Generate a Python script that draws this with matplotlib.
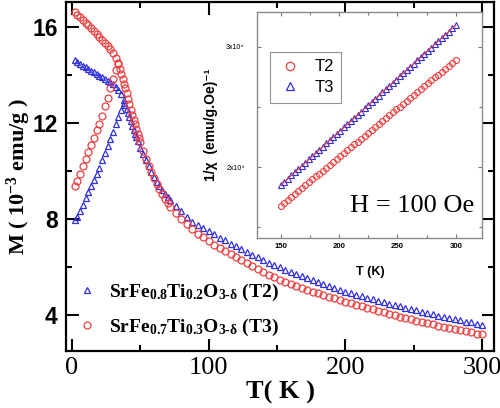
import numpy as np
import matplotlib
matplotlib.use('Agg')
import matplotlib.pyplot as plt
from matplotlib.lines import Line2D
from matplotlib.ticker import MultipleLocator, FixedLocator

plt.rcParams['mathtext.fontset'] = 'custom'
plt.rcParams['mathtext.rm'] = 'Liberation Serif'
plt.rcParams['mathtext.bf'] = 'Liberation Serif:bold'
plt.rcParams['mathtext.it'] = 'Liberation Serif:italic'

# ---- main panel: M(T), units of 1e-3 emu/g ----
# T2 = SrFe0.8Ti0.2O3-d (blue triangles)
t2_zfc_T = [2, 4, 6, 8, 10, 12, 14, 16, 18, 20, 22, 24, 26, 28, 30, 32, 34, 36, 38]
t2_zfc_M = [7.95, 8.1, 8.35, 8.6, 8.9, 9.15, 9.4, 9.65, 9.9, 10.15, 10.45, 10.75,
            11.05, 11.35, 11.65, 11.95, 12.25, 12.55, 12.85]
t2_fc_T = [2, 4, 6, 8, 10, 12, 14, 16, 18, 20, 22, 24, 26, 28, 30, 32, 34, 36]
t2_fc_M = [14.62, 14.55, 14.48, 14.40, 14.33, 14.26, 14.19, 14.12, 14.05, 13.98,
           13.91, 13.84, 13.77, 13.70, 13.62, 13.52, 13.40, 13.22]
t2_T = [38, 39, 40, 41, 42, 43, 44, 45, 46, 47, 48, 50, 52, 54, 56, 58, 60, 62, 64,
        66, 68, 70, 72, 76, 80, 84, 88, 92, 96,
        100, 104, 108, 112, 116, 120, 124, 128, 132, 136, 140, 144, 148, 152, 156,
        160, 164, 168, 172, 176, 180, 184, 188, 192, 196, 200, 204, 208, 212, 216,
        220, 224, 228, 232, 236, 240, 244, 248, 252, 256, 260, 264, 268, 272, 276,
        280, 284, 288, 292, 296, 300]
t2_M = [12.95, 12.78, 12.6, 12.42, 12.25, 12.08, 11.9, 11.73, 11.57, 11.42, 11.27,
        10.98, 10.7, 10.45, 10.2, 9.97, 9.76, 9.56, 9.38, 9.21, 9.05, 8.92, 8.8,
        8.55, 8.32, 8.1, 7.9, 7.76, 7.62,
        7.50, 7.36, 7.23, 7.11, 6.98, 6.86, 6.74, 6.63, 6.52, 6.41, 6.30, 6.19,
        6.09, 5.99, 5.89, 5.80, 5.71, 5.62, 5.54, 5.45, 5.37, 5.29, 5.21, 5.13,
        5.05, 4.98, 4.91, 4.84, 4.78, 4.71, 4.65, 4.59, 4.53, 4.47, 4.42, 4.36,
        4.30, 4.25, 4.19, 4.14, 4.08, 4.03, 3.98, 3.92, 3.88, 3.83, 3.78, 3.73,
        3.69, 3.63, 3.58]

# T3 = SrFe0.7Ti0.3O3-d (red circles)
t3_zfc_T = [2, 4, 6, 8, 10, 12, 14, 16, 18, 20, 22, 24, 26, 28, 30, 32, 34]
t3_zfc_M = [9.4, 9.6, 9.9, 10.2, 10.5, 10.8, 11.1, 11.4, 11.7, 11.95, 12.3, 12.7,
            13.05, 13.45, 13.85, 14.2, 14.5]
t3_fc_T = [2, 4, 6, 8, 10, 12, 14, 16, 18, 20, 22, 24, 26, 28, 30, 32, 34]
t3_fc_M = [16.62, 16.52, 16.42, 16.32, 16.2, 16.08, 15.96, 15.84, 15.72, 15.6,
           15.48, 15.36, 15.22, 15.08, 14.92, 14.72, 14.45]
t3_T = [35, 36, 37, 38, 39, 40, 41, 42, 43, 44, 45, 46, 47, 48, 49, 50, 52, 54, 56,
        58, 60, 62, 64, 66, 68, 70, 72, 76, 80, 84, 88, 92, 96,
        100, 104, 108, 112, 116, 120, 124, 128, 132, 136, 140, 144, 148, 152, 156,
        160, 164, 168, 172, 176, 180, 184, 188, 192, 196, 200, 204, 208, 212, 216,
        220, 224, 228, 232, 236, 240, 244, 248, 252, 256, 260, 264, 268, 272, 276,
        280, 284, 288, 292, 296, 300]
t3_M = [14.25, 14.05, 13.85, 13.65, 13.45, 13.25, 13.02, 12.8, 12.57, 12.35, 12.15,
        11.95, 11.75, 11.57, 11.38, 11.2, 10.85, 10.52, 10.22, 9.95, 9.7, 9.47,
        9.25, 9.05, 8.86, 8.68, 8.52, 8.25, 8.0, 7.78, 7.58, 7.4, 7.24,
        7.08, 6.94, 6.80, 6.68, 6.55, 6.42, 6.30, 6.18, 6.06, 5.92, 5.80, 5.69,
        5.58, 5.47, 5.39, 5.30, 5.22, 5.13, 5.05, 4.98, 4.90, 4.83, 4.76, 4.69,
        4.62, 4.56, 4.50, 4.43, 4.37, 4.30, 4.24, 4.18, 4.12, 4.06, 3.99, 3.93,
        3.87, 3.82, 3.76, 3.71, 3.66, 3.61, 3.56, 3.51, 3.46, 3.41, 3.37, 3.32,
        3.28, 3.23, 3.19]

# ---- inset: 1/chi vs T, units of 1e4 (emu/g.Oe)^-1 ----
ins_T = [150, 153, 156, 159, 162, 165, 168, 171, 174, 177, 180, 183, 186, 189, 192,
         195, 198, 201, 204, 207, 210, 213, 216, 219, 222, 225, 228, 231, 234, 237,
         240, 243, 246, 249, 252, 255, 258, 261, 264, 267, 270, 273, 276, 279, 282,
         285, 288, 291, 294, 297, 300]
ins_red = [1.680, 1.704, 1.728, 1.753, 1.777, 1.801, 1.825, 1.849, 1.874, 1.898,
           1.922, 1.946, 1.970, 1.995, 2.019, 2.043, 2.067, 2.091, 2.116, 2.140,
           2.164, 2.188, 2.212, 2.237, 2.261, 2.285, 2.309, 2.333, 2.358, 2.382,
           2.406, 2.430, 2.454, 2.479, 2.503, 2.527, 2.551, 2.575, 2.600, 2.624,
           2.648, 2.672, 2.696, 2.721, 2.745, 2.769, 2.793, 2.817, 2.842, 2.866, 2.890]
ins_blue = [1.850, 1.877, 1.903, 1.930, 1.956, 1.983, 2.010, 2.036, 2.063, 2.090,
            2.116, 2.143, 2.169, 2.196, 2.222, 2.249, 2.276, 2.302, 2.329, 2.356,
            2.382, 2.409, 2.435, 2.462, 2.488, 2.515, 2.542, 2.568, 2.595, 2.622,
            2.648, 2.675, 2.701, 2.728, 2.754, 2.781, 2.808, 2.834, 2.861, 2.888,
            2.914, 2.941, 2.967, 2.994, 3.020, 3.047, 3.074, 3.100, 3.127, 3.154, 3.180]

RED = '#ef3e3e'
BLUE = '#2f2fe0'

fig = plt.figure(figsize=(5.0, 4.08), dpi=100)
ax = fig.add_axes([0.132, 0.1397, 0.856, 0.855])

tri = dict(ls='none', marker='^', ms=5.0, mfc='none', mec=BLUE, mew=0.9)
circ = dict(ls='none', marker='o', ms=5.0, mfc='none', mec=RED, mew=0.9)
ax.plot(t2_zfc_T, t2_zfc_M, **tri)
ax.plot(t2_fc_T, t2_fc_M, **tri)
ax.plot(t2_T, t2_M, **tri)
ax.plot(t3_zfc_T, t3_zfc_M, **circ)
ax.plot(t3_fc_T, t3_fc_M, **circ)
ax.plot(t3_T, t3_M, **circ)

ax.set_xlim(-4.4, 308.8)
ax.set_ylim(2.5, 17.05)
ax.set_xticks([0, 100, 200, 300])
ax.set_xticklabels(['0', '100', '200', '300'], fontfamily='Liberation Serif', fontsize=19)
ax.set_yticks([4, 8, 12, 16])
ax.set_yticklabels(['4', '8', '12', '16'], fontfamily='Liberation Sans',
                   fontweight='bold', fontsize=16.5)
ax.xaxis.set_minor_locator(MultipleLocator(50))
ax.yaxis.set_minor_locator(MultipleLocator(2))
ax.tick_params(which='both', direction='in', top=True, right=True, width=1.5)
ax.tick_params(which='major', length=9)
ax.tick_params(which='minor', length=4.5)
ax.tick_params(axis='x', pad=4)
ax.tick_params(axis='y', pad=6)
for s in ax.spines.values():
    s.set_linewidth(1.6)

ax.set_xlabel('T( K )', fontfamily='Liberation Serif', fontweight='bold', fontsize=19)
ax.xaxis.set_label_coords(0.5, -0.087)
ax.set_ylabel(r'M ( 10$^{\mathbf{-3}}$ emu/g )', fontfamily='Liberation Serif',
              fontweight='bold', fontsize=16)
ax.yaxis.set_label_coords(-0.078, 0.5)

handles = [Line2D([], [], **tri), Line2D([], [], **circ)]
labels = [r'SrFe$_{\mathbf{0.8}}$Ti$_{\mathbf{0.2}}$O$_{\mathbf{3\text{-}\delta}}$ (T2)',
          r'SrFe$_{\mathbf{0.7}}$Ti$_{\mathbf{0.3}}$O$_{\mathbf{3\text{-}\delta}}$ (T3)']
ax.legend(handles, labels, loc='lower left', bbox_to_anchor=(-0.014, -0.012),
          frameon=False, handlelength=1.0, handletextpad=0.6, labelspacing=0.7,
          prop=dict(family='Liberation Serif', weight='bold', size=14))

# ---- inset ----
ax2 = fig.add_axes([0.514, 0.4167, 0.45, 0.554])
ax2.plot(ins_T, ins_red, ls='none', marker='o', ms=4.3, mfc='none', mec=RED, mew=0.8)
ax2.plot(ins_T, ins_blue, ls='none', marker='^', ms=4.3, mfc='none', mec=BLUE, mew=0.8)
fit = np.polyfit(ins_T, ins_blue, 1)
ax2.plot([ins_T[0], ins_T[-1]], np.polyval(fit, [ins_T[0], ins_T[-1]]),
         color=RED, lw=0.8)

ax2.set_xlim(129.5, 322.5)
ax2.set_ylim(1.41, 3.29)
ax2.set_xticks([150, 200, 250, 300])
ax2.set_xticklabels(['150', '200', '250', '300'], fontfamily='Liberation Sans',
                    fontweight='bold', fontsize=5.6)
ax2.xaxis.set_minor_locator(FixedLocator([175, 225, 275]))
ax2.set_yticks([2, 3])
ax2.set_yticklabels(['2x10\u2074', '3x10\u2074'], fontfamily=['Liberation Sans', 'DejaVu Sans'],
                    fontsize=5)
ax2.yaxis.set_minor_locator(FixedLocator([1.5, 2.5]))
ax2.tick_params(which='both', direction='in', top=True, right=True, color='#777777',
                width=0.8)
ax2.tick_params(which='major', length=3)
ax2.tick_params(which='minor', length=2)
ax2.tick_params(axis='x', pad=3.5)
ax2.tick_params(axis='y', pad=9)
for s in ax2.spines.values():
    s.set_color('#8a8a8a')
    s.set_linewidth(1.0)

ax2.set_xlabel('T (K)', fontfamily='Liberation Sans', fontweight='bold', fontsize=9)
ax2.xaxis.set_label_coords(0.502, -0.122)
ax2.set_ylabel('1/\u03c7  (emu/g.Oe)\u207b\u00b9', fontfamily=['Liberation Sans', 'DejaVu Sans'],
               fontweight='bold', fontsize=10)
ax2.yaxis.set_label_coords(-0.175, 0.5)

ins_handles = [Line2D([], [], ls='none', marker='o', ms=6, mfc='none', mec=RED, mew=0.9),
               Line2D([], [], ls='none', marker='^', ms=6, mfc='none', mec=BLUE, mew=0.9)]
leg2 = ax2.legend(ins_handles, ['T2', 'T3'], loc='upper left', bbox_to_anchor=(0.058, 0.823),
                  borderaxespad=0, fancybox=False, edgecolor='#777777', handlelength=1.5,
                  handletextpad=0.7, borderpad=0.45, labelspacing=0.35,
                  prop=dict(family='Liberation Sans', size=12))
leg2.get_frame().set_linewidth(0.8)

ax2.text(0.689, 0.142, 'H = 100 Oe', transform=ax2.transAxes, ha='center', va='center',
         fontfamily='Liberation Serif', fontsize=19)

fig.savefig('out.png', dpi=100)
